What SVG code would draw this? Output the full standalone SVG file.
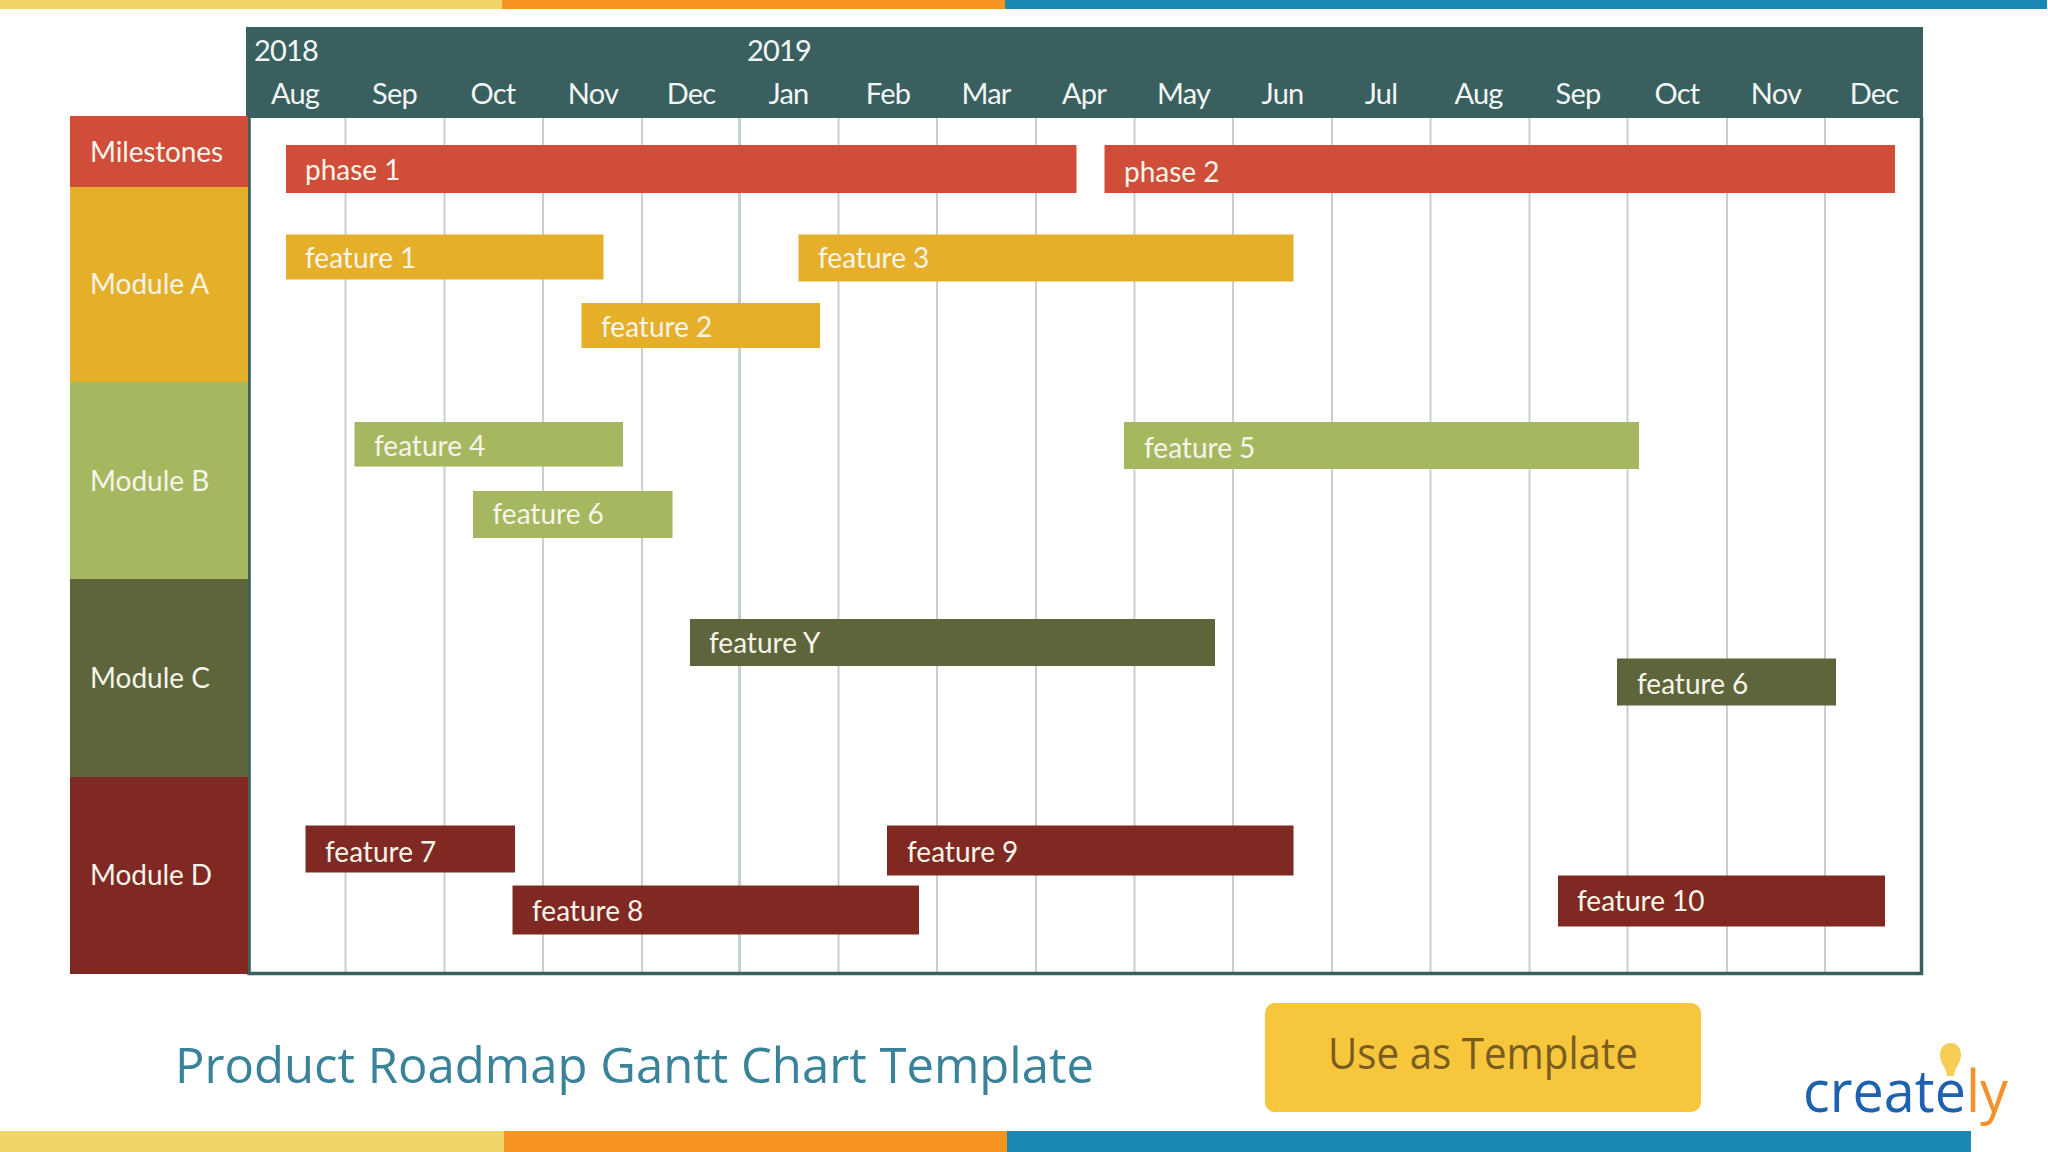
<svg xmlns="http://www.w3.org/2000/svg" width="2048" height="1152" viewBox="0 0 2048 1152">
<style>
text{font-family:"Lato","Open Sans",sans-serif;fill:#f7f4ea;font-size:28px}
.h{fill:#f2f6f5;font-size:29px;text-anchor:middle;letter-spacing:-.8px}
.y{fill:#f2f6f5;font-size:29px;letter-spacing:-.8px}
.g{stroke:#c6d0d2;stroke-width:2;fill:none}
.r{fill:#cf4d39}.a{fill:#e5af2a}.b{fill:#a5b860}.c{fill:#5e653a}.d{fill:#802822}
</style>
<rect width="2048" height="1152" fill="#fff"/>
<g id="top-bar"><rect width="502" height="9" fill="#f0d468"/><rect x="502" width="503" height="9" fill="#f79421"/><rect x="1005" width="1042" height="9" fill="#1a8ab5"/></g>
<g id="bottom-bar"><rect y="1131" width="504" height="21" fill="#f0d468"/><rect x="504" y="1131" width="503" height="21" fill="#f79421"/><rect x="1007" y="1131" width="964" height="21" fill="#1a8ab5"/></g>
<g id="grid" class="g">
<path d="M345.500 117V973M444.500 117V973M543 117V973M642 117V973M838.500 117V973M937 117V973M1036 117V973M1134.500 117V973M1233 117V973M1332 117V973M1430.500 117V973M1529.500 117V973M1627.500 117V973M1727 117V973M1825 117V973"/>
<path d="M739.500 117V973" stroke-width="3"/>
</g>
<g id="frame"><path d="M249 117V973.500H1921.500V117" fill="none" stroke="#3a5f5f" stroke-width="3.500"/></g>
<g id="header"><rect x="246" y="27" width="1677" height="91" fill="#3a5f5f"/>
<text class="y" x="254" y="61">2018</text><text class="y" x="747" y="61">2019</text>
<text class="h" x="295" y="104">Aug</text><text class="h" x="394.500" y="104">Sep</text><text class="h" x="493" y="104">Oct</text><text class="h" x="593" y="104">Nov</text><text class="h" x="691" y="104">Dec</text><text class="h" x="788.500" y="104">Jan</text><text class="h" x="888" y="104">Feb</text><text class="h" x="986" y="104">Mar</text><text class="h" x="1084" y="104">Apr</text><text class="h" x="1183.500" y="104">May</text><text class="h" x="1282.500" y="104">Jun</text><text class="h" x="1381" y="104">Jul</text><text class="h" x="1478.500" y="104">Aug</text><text class="h" x="1578" y="104">Sep</text><text class="h" x="1677" y="104">Oct</text><text class="h" x="1776" y="104">Nov</text><text class="h" x="1874" y="104">Dec</text>
</g>
<g id="milestones"><rect class="r" x="70" y="116" width="178" height="71"/><text x="90" y="162" textLength="133">Milestones</text></g>
<g id="module-a"><rect class="a" x="70" y="187" width="178" height="195"/><text x="90" y="294">Module A</text></g>
<g id="module-b"><rect class="b" x="70" y="382" width="178" height="197"/><text x="90" y="491">Module B</text></g>
<g id="module-c"><rect class="c" x="70" y="579" width="178" height="198"/><text x="90" y="688">Module C</text></g>
<g id="module-d"><rect class="d" x="70" y="777" width="178" height="197"/><text x="90" y="885" textLength="122">Module D</text></g>
<g id="phase-1"><rect class="r" x="286" y="145" width="790.500" height="48"/><text x="305" y="180">phase 1</text></g>
<g id="phase-2"><rect class="r" x="1104.500" y="145" width="790.500" height="48"/><text x="1124" y="182">phase 2</text></g>
<g id="feature-1"><rect class="a" x="286" y="234.500" width="317.500" height="45"/><text x="305" y="268">feature 1</text></g>
<g id="feature-2"><rect class="a" x="581.500" y="303" width="238.500" height="45"/><text x="601" y="337">feature 2</text></g>
<g id="feature-3"><rect class="a" x="798.500" y="234.500" width="495" height="47"/><text x="818" y="268">feature 3</text></g>
<g id="feature-4"><rect class="b" x="354.500" y="422" width="268.500" height="44.500"/><text x="374" y="456">feature 4</text></g>
<g id="feature-5"><rect class="b" x="1124" y="422" width="515" height="47"/><text x="1144" y="458">feature 5</text></g>
<g id="feature-6-b"><rect class="b" x="473" y="491" width="199.500" height="47"/><text x="492.500" y="524">feature 6</text></g>
<g id="feature-y"><rect class="c" x="690" y="619" width="525" height="47"/><text x="709" y="653">feature Y</text></g>
<g id="feature-6-c"><rect class="c" x="1617" y="658.500" width="219" height="47"/><text x="1637" y="694">feature 6</text></g>
<g id="feature-7"><rect class="d" x="305.500" y="825.500" width="209.500" height="47"/><text x="325" y="862">feature 7</text></g>
<g id="feature-8"><rect class="d" x="512.500" y="885.500" width="406.500" height="49"/><text x="532" y="921">feature 8</text></g>
<g id="feature-9"><rect class="d" x="887" y="825.500" width="406.500" height="50"/><text x="907" y="862">feature 9</text></g>
<g id="feature-10"><rect class="d" x="1558" y="875.500" width="327" height="51"/><text x="1577" y="911">feature 10</text></g>
<text id="title" x="175" y="1083" textLength="919" lengthAdjust="spacingAndGlyphs" style="font-family:'Open Sans',sans-serif;font-size:49px;fill:#3a8299">Product Roadmap Gantt Chart Template</text>
<g id="button"><rect x="1265" y="1003" width="436" height="109" rx="10" fill="#f6c73d"/><text x="1328" y="1069" textLength="310" lengthAdjust="spacingAndGlyphs" style="font-family:'Open Sans',sans-serif;font-size:43px;fill:#7a5c1e">Use as Template</text></g>
<g id="logo"><path d="M1951 1043c-7 0-11 5-11 12 0 8 6 12 7 21h7c1-9 7-13 7-21 0-7-4-12-10-12z" fill="#f6cd55"/>
<text x="1803" y="1112" textLength="205" lengthAdjust="spacingAndGlyphs" style="font-family:'Open Sans',sans-serif;font-size:58px;fill:#1c62ae">create<tspan fill="#f5912b">ly</tspan></text></g>
</svg>
